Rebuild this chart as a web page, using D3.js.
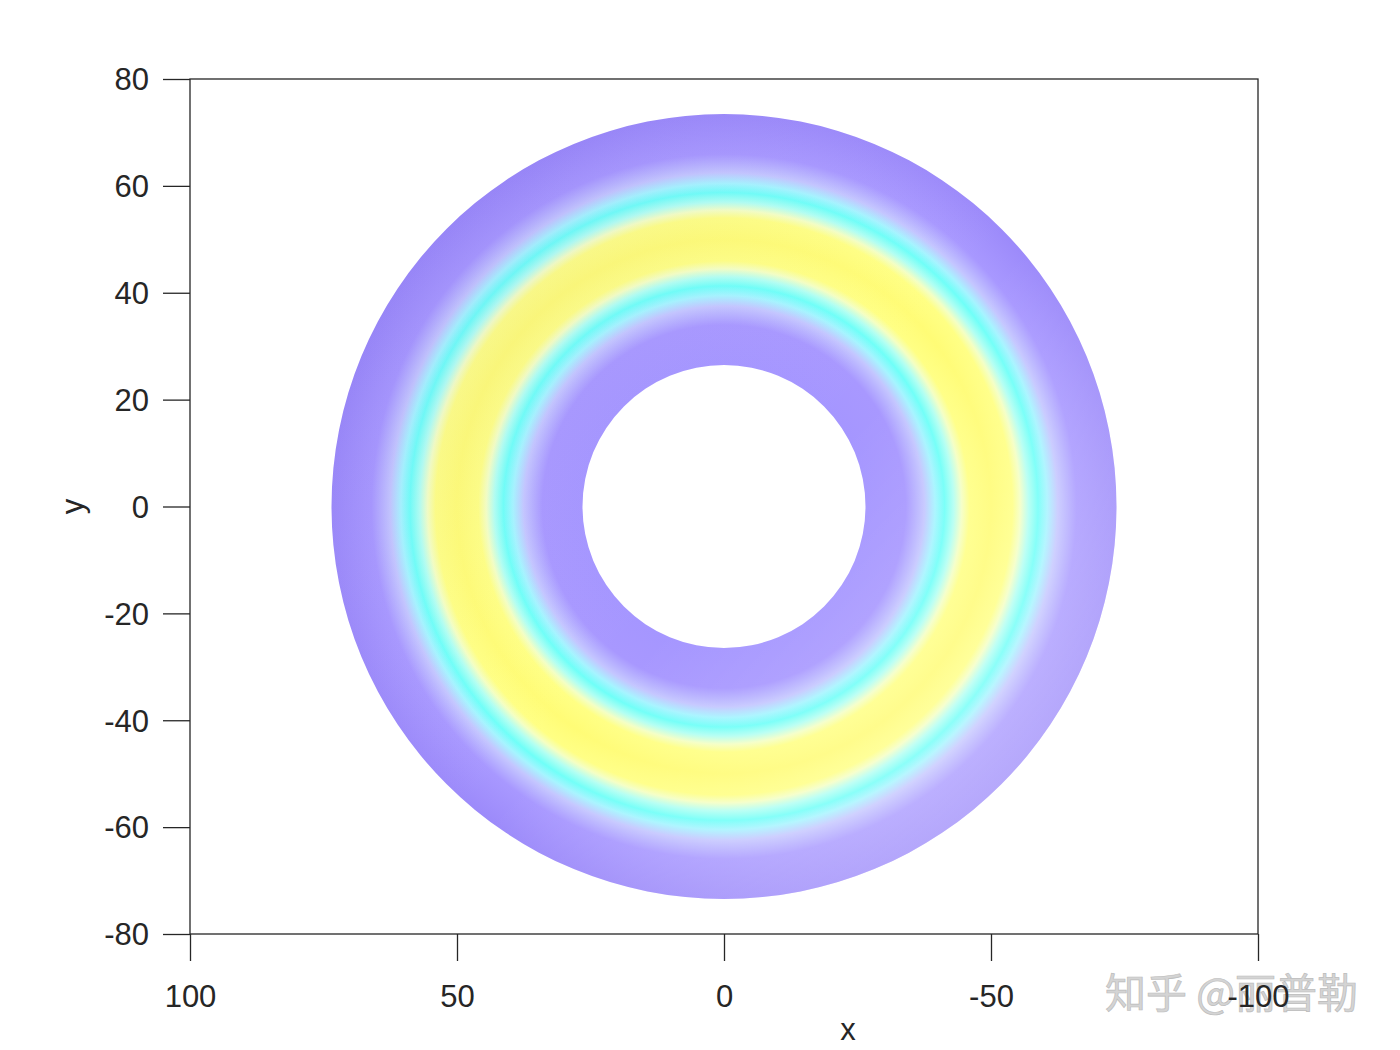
<!DOCTYPE html>
<html>
<head>
<meta charset="utf-8">
<script src="https://cdn.jsdelivr.net/npm/d3@7"></script>
<style>
  body { margin: 0; background: #fff; }
  svg { display: block; font-family: "Liberation Sans", Arial, sans-serif; }
</style>
</head>
<body>
<svg id="chart" width="1400" height="1050"></svg>
<script>
// axis ticks
const xTicks = [100, 50, 0, -50, -100];
const yTicks = [-80, -60, -40, -20, 0, 20, 40, 60, 80];

// annulus extent
const innerR = 26.5;
const outerR = 73.5;

// radial colour profile (radius -> colour)
const ringRadii = [26.5, 34, 37.5, 39.5, 41.3, 43, 44.5, 46, 50, 54, 55.5, 57, 58.8, 60.5, 62.5, 66, 73.5];
const ringColors = [
  "#a596ff", "#a898ff", "#c4c6ff", "#a6f4ff", "#6ffff8", "#b2fff2", "#f4ffc4", "#ffff84",
  "#fffc76", "#ffff84", "#f4ffc4", "#b2fff2", "#6ffff8", "#a6f4ff", "#c4c6ff", "#a898ff", "#9c8afa"
];

const svg = d3.select("#chart");

const x = d3.scaleLinear().domain([100, -100]).range([190, 1258]);
const y = d3.scaleLinear().domain([-80, 80]).range([934, 79]);

const cx = x(0), cy = y(0);
const px = r => Math.abs(x(r) - x(0));

const defs = svg.append("defs");

// gradient lives in the translated group's space, so centre is 0,0
const rg = defs.append("radialGradient")
    .attr("id", "ring")
    .attr("gradientUnits", "userSpaceOnUse")
    .attr("cx", 0).attr("cy", 0).attr("r", px(outerR));
rg.selectAll("stop")
    .data(ringRadii)
    .enter().append("stop")
    .attr("offset", d => d / outerR)
    .attr("stop-color", (d, i) => ringColors[i]);

// light from lower right, like the surface lighting
const lg = defs.append("linearGradient")
    .attr("id", "light")
    .attr("x1", 0.2).attr("y1", 0.15)
    .attr("x2", 0.95).attr("y2", 0.85);
lg.append("stop").attr("offset", 0).attr("stop-color", "#5040c0").attr("stop-opacity", 0.06);
lg.append("stop").attr("offset", 0.5).attr("stop-color", "#ffffff").attr("stop-opacity", 0);
lg.append("stop").attr("offset", 1).attr("stop-color", "#ffffff").attr("stop-opacity", 0.3);

const arc = d3.arc()
    .innerRadius(px(innerR))
    .outerRadius(px(outerR))
    .startAngle(0)
    .endAngle(2 * Math.PI);

const g = svg.append("g").attr("transform", `translate(${cx},${cy})`);
g.append("path").attr("d", arc()).attr("fill", "url(#ring)");
g.append("path").attr("d", arc()).attr("fill", "url(#light)");

// watermark
svg.append("text")
    .attr("x", 1105).attr("y", 1008)
    .attr("font-family", "Noto Sans CJK SC")
    .attr("font-size", 41)
    .attr("fill", "#d4d4d4")
    .attr("stroke", "#bcbcbc")
    .attr("stroke-width", 0.7)
    .text("知乎 @丽普勒");

// axes
const axisColor = "#262626";

// box
svg.append("rect")
    .attr("x", x(100)).attr("y", y(80))
    .attr("width", x(-100) - x(100)).attr("height", y(-80) - y(80))
    .attr("fill", "none")
    .attr("stroke", axisColor)
    .attr("stroke-width", 1.3);

const yAxis = svg.append("g")
    .attr("transform", `translate(${x(100)},0)`)
    .call(d3.axisLeft(y).tickValues(yTicks).tickFormat(d => String(d)).tickSize(27).tickPadding(14));

const xAxis = svg.append("g")
    .attr("transform", `translate(0,${y(-80)})`)
    .call(d3.axisBottom(x).tickValues(xTicks).tickFormat(d => String(d)).tickSize(27).tickPadding(24));

[xAxis, yAxis].forEach(a => {
    a.select(".domain").remove();
    a.selectAll("line").attr("stroke", axisColor).attr("stroke-width", 1.3);
    a.selectAll("text")
        .attr("fill", axisColor)
        .attr("font-size", 31)
        .attr("font-family", "Liberation Sans, Arial, sans-serif");
});

yAxis.selectAll("text").attr("dy", "0.35em");

// axis labels
svg.append("text")
    .attr("x", 848).attr("y", 1040)
    .attr("text-anchor", "middle")
    .attr("font-size", 31)
    .attr("fill", axisColor)
    .text("x");

svg.append("text")
    .attr("transform", `translate(83,${cy}) rotate(-90)`)
    .attr("text-anchor", "middle")
    .attr("font-size", 31)
    .attr("fill", axisColor)
    .text("y");
</script>
</body>
</html>
